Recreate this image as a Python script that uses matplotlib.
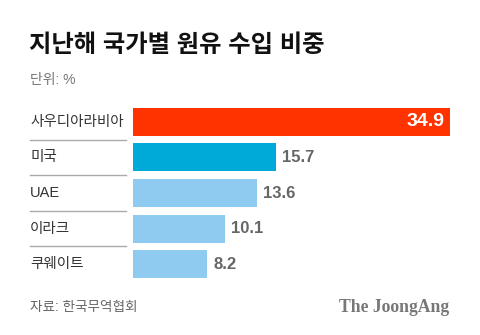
import matplotlib.pyplot as plt
from matplotlib.transforms import blended_transform_factory

countries = ["사우디아라비아", "미국", "UAE", "이라크", "쿠웨이트"]
shares = [34.9, 15.7, 13.6, 10.1, 8.2]
colors = ["#FF3300", "#00AAD8", "#8FCBF0", "#8FCBF0", "#8FCBF0"]

KR = ["Liberation Sans", "Noto Sans CJK KR"]

W, H = 480, 335
fig = plt.figure(figsize=(W / 100, H / 100), dpi=100)
fig.patch.set_facecolor("white")

# axes placed so bars start at x=133px and the 34.9 bar ends at x=450px
ax = fig.add_axes([133 / W, 1 - 282 / H, (450 - 133) / W, (282 - 104) / H])
ax.barh(range(len(shares)), shares, height=0.79, color=colors)
ax.set_xlim(0, max(shares))
ax.set_ylim(len(shares) - 0.5, -0.5)
ax.axis("off")

tr = blended_transform_factory(fig.transFigure, ax.transData)
for i, (name, v) in enumerate(zip(countries, shares)):
    ax.text(30 / W, i, name, transform=tr, ha="left", va="center",
            fontsize=10.5, color="#333333", family=KR)
    if i < len(shares) - 1:
        ax.plot([30 / W, 126 / W], [i + 0.5, i + 0.5], transform=tr,
                color="#AAAAAA", lw=1, clip_on=False)
    if i == 0:
        ax.text(v - 0.6, i, f"{v}", ha="right", va="center", fontsize=14,
                color="white", fontweight="bold", family="Liberation Sans")
    else:
        ax.text(v + 0.7, i, f"{v}", ha="left", va="center", fontsize=12,
                color="#666666", fontweight="bold", family="Liberation Sans")

fig.text(29 / W, 1 - 45 / H, "지난해 국가별 원유 수입 비중", fontsize=17.5,
         fontweight="heavy", color="#111111", family=KR, va="center")
fig.text(30 / W, 1 - 80 / H, "단위: %", fontsize=10, color="#777777",
         family=KR, va="center")
fig.text(30 / W, 1 - 307 / H, "자료: 한국무역협회", fontsize=9.8, color="#666666",
         family=KR, va="center")
fig.text(449 / W, 1 - 307 / H, "The JoongAng", fontsize=12.7, fontweight="bold",
         color="#777777", family="Liberation Serif", ha="right", va="center")

fig.savefig("out.png", dpi=100, facecolor="white")
